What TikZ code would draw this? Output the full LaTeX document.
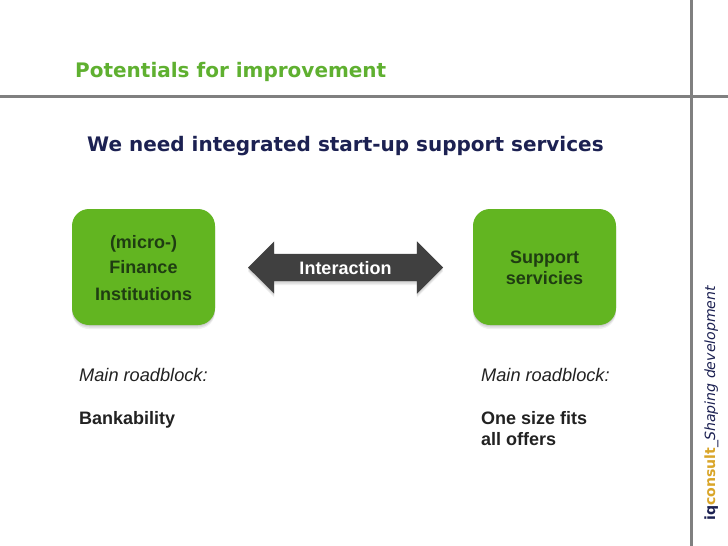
\documentclass[tikz,border=0pt]{standalone}
\usepackage{fontspec}
\setmainfont{Liberation Sans}
\newfontfamily\verd{DejaVu Sans}
\usetikzlibrary{shapes.arrows,shadows}
\definecolor{boxgreen}{HTML}{62B521}
\definecolor{titlegreen}{HTML}{5FB030}
\definecolor{navy}{HTML}{1C2152}
\definecolor{rule}{HTML}{808080}
\definecolor{boxtext}{HTML}{1F3D12}
\definecolor{arrowgrey}{HTML}{404040}
\definecolor{gold}{HTML}{D9A528}
\definecolor{body}{HTML}{222222}
\tikzset{
  softshadow/.style={
    general shadow={fill=black,opacity=.08,shadow yshift=-1pt},
    general shadow={fill=black,opacity=.08,shadow yshift=-2.5pt},
    general shadow={fill=black,opacity=.06,shadow yshift=-4pt}},
  greenbox/.style={rectangle,rounded corners=17pt,fill=boxgreen,minimum width=143pt,minimum height=116pt,
    inner sep=0pt,align=center,text=boxtext,font=\fontsize{18}{27}\selectfont\bfseries,softshadow},
  roadblock/.style={anchor=base west,inner sep=0pt,text=body,font=\fontsize{18.2}{22}\selectfont\itshape},
  verdict/.style={anchor=base west,inner sep=0pt,text=body,align=left,font=\fontsize{18}{21}\selectfont\bfseries},
  rulefill/.style={fill=rule,draw=none}
}
\begin{document}
\begin{tikzpicture}[x=1pt,y=-1pt]
\useasboundingbox (0,0) rectangle (728,546);
\fill[white] (0,0) rectangle (728,546);
\fill[rulefill] (0,94.5) rectangle (728,97.5);
\fill[rulefill] (689.5,0) rectangle (692.5,546);
\node[anchor=base west,inner sep=0pt,text=titlegreen,font=\verd\fontsize{20}{24}\selectfont\bfseries] (title) at (75,77) {Potentials for improvement};
\node[anchor=base west,inner sep=0pt,text=navy,font=\verd\fontsize{20}{24}\selectfont\bfseries] (subtitle) at (87,151) {We need integrated start-up support services};
\node[greenbox] (left) at (143.5,267) {\rule{0pt}{16pt}(micro-)\\[-2pt]Finance\\Institutions};
\node[greenbox,font=\fontsize{18}{21}\selectfont\bfseries] (right) at (544.5,267) {\rule{0pt}{14pt}Support\\servicies};
\node[double arrow,double arrow head extend=12.5pt,double arrow tip angle=90,fill=arrowgrey,
  minimum height=195pt,minimum width=52pt,inner xsep=0pt,inner ysep=0pt,text height=20pt,text depth=7pt,
  text=white,font=\fontsize{18}{22}\selectfont\bfseries,softshadow] (link) at (345.5,267.5) {Interaction};
\node[roadblock] (lr) at (79,381) {Main roadblock:};
\node[verdict] (lv) at (79,424) {Bankability};
\node[roadblock] (rr) at (481,381) {Main roadblock:};
\node[verdict] (rv) at (481,445) {One size fits\\all offers};
\node[rotate=90,anchor=base west,inner sep=0pt,font=\verd\fontsize{14.1}{16}\selectfont] (brand) at (715,521)
  {\textcolor{navy}{\bfseries iq}\textcolor{gold}{\bfseries consult}\textcolor{navy}{\itshape\_Shaping development}};
\end{tikzpicture}
\end{document}
